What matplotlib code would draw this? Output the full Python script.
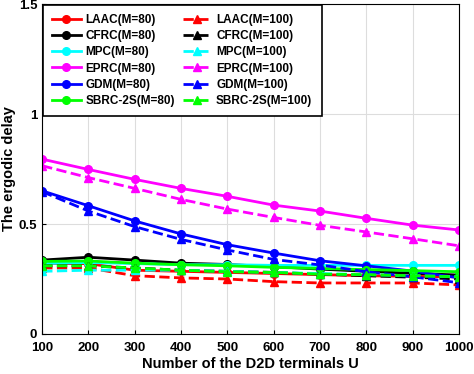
import numpy as np
import matplotlib.pyplot as plt

plt.rcParams['font.family'] = ['Liberation Sans', 'DejaVu Sans']
plt.rcParams['font.weight'] = 'bold'

U = [100, 200, 300, 400, 500, 600, 700, 800, 900, 1000]

laac_80 = [0.32, 0.32, 0.29, 0.285, 0.28, 0.275, 0.27, 0.265, 0.262, 0.26]
cfrc_80 = [0.336, 0.349, 0.336, 0.322, 0.316, 0.306, 0.295, 0.285, 0.276, 0.268]
mpc_80 = [0.32, 0.325, 0.32, 0.315, 0.315, 0.312, 0.312, 0.312, 0.312, 0.312]
eprc_80 = [0.795, 0.748, 0.703, 0.662, 0.626, 0.586, 0.559, 0.526, 0.495, 0.473]
gdm_80 = [0.651, 0.583, 0.514, 0.455, 0.406, 0.368, 0.333, 0.31, 0.286, 0.255]
sbrc_80 = [0.33, 0.332, 0.322, 0.315, 0.31, 0.303, 0.298, 0.293, 0.288, 0.283]

laac_100 = [0.30, 0.30, 0.265, 0.255, 0.25, 0.238, 0.232, 0.232, 0.232, 0.223]
cfrc_100 = [0.31, 0.31, 0.30, 0.29, 0.285, 0.28, 0.272, 0.265, 0.258, 0.25]
mpc_100 = [0.285, 0.29, 0.29, 0.29, 0.285, 0.28, 0.275, 0.27, 0.265, 0.26]
eprc_100 = [0.765, 0.711, 0.662, 0.612, 0.568, 0.530, 0.494, 0.464, 0.433, 0.401]
gdm_100 = [0.647, 0.559, 0.488, 0.430, 0.382, 0.339, 0.314, 0.283, 0.26, 0.233]
sbrc_100 = [0.31, 0.31, 0.30, 0.29, 0.283, 0.28, 0.272, 0.27, 0.265, 0.26]

names = ['LAAC', 'CFRC', 'MPC', 'EPRC', 'GDM', 'SBRC-2S']
colors = ['red', 'black', 'cyan', 'magenta', 'blue', 'lime']
data_80 = [laac_80, cfrc_80, mpc_80, eprc_80, gdm_80, sbrc_80]
data_100 = [laac_100, cfrc_100, mpc_100, eprc_100, gdm_100, sbrc_100]

fig = plt.figure(figsize=(4.74, 3.74), dpi=100)
ax = fig.add_axes([0.089, 0.107, 0.879, 0.882])

for n, c, d in zip(names, colors, data_80):
    ax.plot(U, d, '-', color=c, marker='o', markersize=5.5, linewidth=2,
            label=n + '(M=80)')
for n, c, d in zip(names, colors, data_100):
    ax.plot(U, d, '--', color=c, marker='^', markersize=6, linewidth=2,
            label=n + '(M=100)')

ax.set_xlim(100, 1000)
ax.set_ylim(0, 1.5)
ax.set_xticks(U)
ax.set_yticks([0, 0.5, 1, 1.5])
ax.set_yticklabels(['0', '0.5', '1', '1.5'])
ax.tick_params(direction='in', labelsize=9.5, length=3)
ax.tick_params(axis='x', pad=6)
ax.grid(True, color='#dddddd', linewidth=0.8)
ax.set_axisbelow(True)

ax.set_xlabel('Number of the D2D terminals U', fontsize=10.5, fontweight='bold', labelpad=2)
ax.set_ylabel('The ergodic delay', fontsize=10.5, fontweight='bold', labelpad=2)

leg = ax.legend(ncol=2, loc='upper left', fontsize=8.5, fancybox=False,
                edgecolor='black', framealpha=1, borderaxespad=0.05,
                handlelength=2.4, handletextpad=0.4, columnspacing=0.7,
                labelspacing=0.35, borderpad=0.8)
leg.get_frame().set_linewidth(1.2)

plt.savefig('out.png', dpi=100)
